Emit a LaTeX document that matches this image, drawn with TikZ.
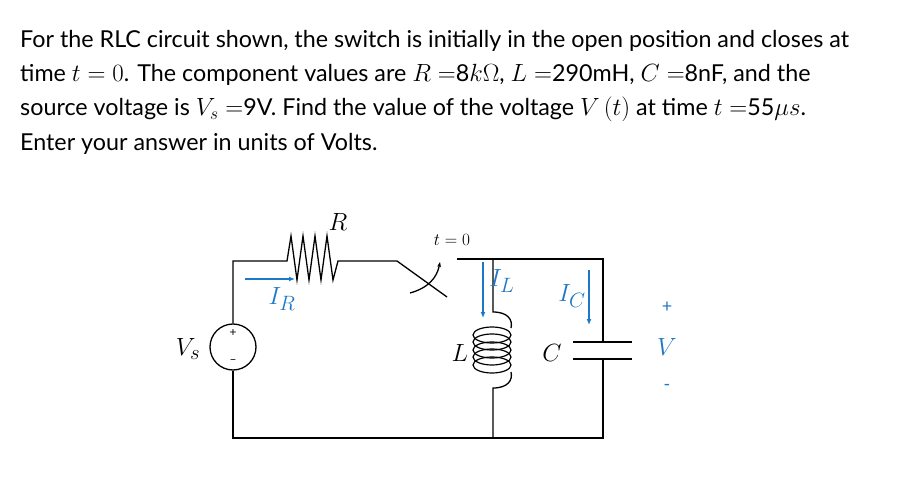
\documentclass[tikz,border=0pt]{standalone}
\usepackage{fontspec}
\setmainfont{Lato}
\usetikzlibrary{arrows.meta}
\definecolor{cblue}{RGB}{30,120,200}
\begin{document}
\begin{tikzpicture}[x=1pt,y=-1pt,
  txt/.style={anchor=base west,inner sep=0pt,font=\fontsize{23.3}{28}\selectfont},
  wire/.style={line width=1.3pt,black},
  cur/.style={cblue,line width=1.5pt,-{Latex[length=6pt,width=5pt]}},
  lbl/.style={inner sep=0pt,font=\fontsize{28}{32}\selectfont}]
\useasboundingbox (0,0) rectangle (898,503);
\node[txt] (l1) at (20,48) {For the RLC circuit shown, the switch is initially in the open position and closes at};
\node[txt] (l2) at (20,82) {time $t=0$. The component values are $R=$8$k\Omega$, $L=$290mH, $C=$8nF, and the};
\node[txt] (l3) at (20,116) {source voltage is $V_s=$9V. Find the value of the voltage $V\left(t\right)$ at time $t=$55$\mu s$.};
\node[txt] (l4) at (20,150) {Enter your answer in units of Volts.};
% coordinates
\coordinate (tl) at (233,261);
\coordinate (bl) at (233,438);
\coordinate (ra) at (287,261);
\coordinate (rb) at (342,261);
\coordinate (sw1) at (397,261);
\coordinate (sw2) at (447,297);
\coordinate (tr0) at (457,259);
\coordinate (tm) at (493,259);
\coordinate (tr) at (603,259);
\coordinate (br) at (603,438);
\coordinate (bm) at (493,438);
\node[circle,draw,line width=1.3pt,minimum size=46pt,inner sep=0pt] (src) at (233,347) {};
\node[font=\fontsize{12}{14}\selectfont] at (233,333) {+};
\node[font=\fontsize{12}{14}\selectfont] at (233,362) {--};
\draw[wire] (src.north) -- (tl) -- (ra)
  -- (291,236) -- (297,280) -- (303,236) -- (309,280) -- (315,236) -- (321,280) -- (327,236) -- (333,280) -- (338,261) -- (rb) -- (sw1) -- (sw2);
\draw[wire] (src.south) -- (bl) -- (br) -- (603,359);
\draw[wire] (603,342) -- (tr) -- (tr0);
\draw[wire,-{Stealth[length=5pt]}] (410,293) .. controls (428,288) and (437,278) .. (440,262);
% inductor
\draw[wire] (tm) -- (493,312) .. controls (508,312) and (513,320) .. (511,328);
\foreach \y in {335,342,350,357,365} \draw[line width=1.2pt] (492,\y) ellipse[x radius=19,y radius=8];
\draw[wire] (511,372) .. controls (513,380) and (508,388) .. (493,388) -- (bm);
% capacitor
\draw[wire] (573,342) -- (632,342);
\draw[wire] (573,359) -- (632,359);
% labels
\node[lbl] (R) at (338,222) {$R$};
\node[lbl,font=\fontsize{17}{19}\selectfont] (t0) at (452,240) {$t=0$};
\node[lbl] (Vs) at (188,349) {$V_s$};
\node[lbl] (L) at (460,353) {$L$};
\node[lbl] (C) at (552,353) {$C$};
\draw[cur] (245,279) -- (295,279);
\node[lbl,cblue] at (282,299) {$I_R$};
\draw[cur] (483,262) -- (483,318);
\node[lbl,cblue] at (502,281) {$I_L$};
\draw[cur] (589,270) -- (589,325);
\node[lbl,cblue] at (572,296) {$I_C$};
\node[lbl,cblue,font=\fontsize{18}{20}\selectfont] at (667,307) {+};
\node[lbl,cblue] at (667,347) {$V$};
\node[lbl,cblue,font=\fontsize{18}{20}\selectfont] at (667,387) {-};
\end{tikzpicture}
\end{document}
